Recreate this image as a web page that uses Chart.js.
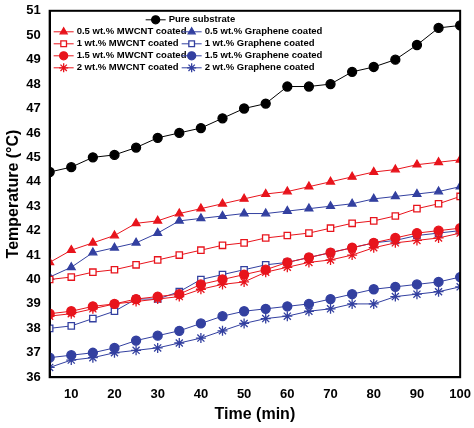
<!DOCTYPE html>
<html><head><meta charset="utf-8">
<script src="https://cdn.jsdelivr.net/npm/chart.js@4/dist/chart.umd.min.js"></script>
<style>html,body{margin:0;padding:0;background:#fff}#w{width:474px;height:428px}</style>
</head><body><div id="w"><canvas id="c"></canvas></div>
<script>
const times=[5,10,15,20,25,30,35,40,45,50,55,60,65,70,75,80,85,90,95,100];
const pure=[44.4,44.6,45.0,45.1,45.4,45.8,46.0,46.2,46.6,47.0,47.2,47.9,47.9,48.0,48.5,48.7,49.0,49.6,50.3,50.4];
const mw05=[40.7,41.2,41.5,41.8,42.3,42.4,42.7,42.9,43.1,43.3,43.5,43.6,43.8,44.0,44.2,44.4,44.5,44.7,44.8,44.9];
const mw1=[40.0,40.1,40.3,40.4,40.6,40.8,41.0,41.2,41.4,41.5,41.7,41.8,41.9,42.1,42.3,42.4,42.6,42.9,43.1,43.4];
const mw15=[38.6,38.7,38.9,39.0,39.2,39.3,39.4,39.8,40.0,40.2,40.4,40.7,40.9,41.1,41.3,41.5,41.7,41.9,42.0,42.1];
const mw2=[38.5,38.6,38.8,39.0,39.1,39.2,39.3,39.6,39.8,39.9,40.3,40.5,40.7,40.8,41.0,41.3,41.5,41.6,41.7,41.9];
const gr05=[40.1,40.5,41.1,41.3,41.5,41.9,42.4,42.5,42.6,42.7,42.7,42.8,42.9,43.0,43.1,43.3,43.4,43.5,43.6,43.8];
const gr1=[38.0,38.1,38.4,38.7,39.2,39.2,39.5,40.0,40.2,40.4,40.6,40.7,40.9,41.1,41.3,41.5,41.6,41.8,41.9,42.0];
const gr15=[36.8,36.9,37.0,37.2,37.5,37.7,37.9,38.2,38.5,38.7,38.8,38.9,39.0,39.2,39.4,39.6,39.7,39.8,39.9,40.1];
const gr2=[36.4,36.7,36.8,37.0,37.1,37.2,37.4,37.6,37.9,38.2,38.4,38.5,38.7,38.8,39.0,39.0,39.3,39.4,39.5,39.7];
const R='#e8141c',B='#3340a0';
function ds(label,data,color,style,fill){return{label,data:data.map((v,i)=>({x:times[i],y:v})),borderColor:color,backgroundColor:fill||color,pointBorderColor:color,pointBackgroundColor:fill||color,pointStyle:style,pointRadius:style==='star'?5:4.5,borderWidth:1,pointBorderWidth:1.3,tension:0};}
const datasets=[
ds('Pure substrate',pure,'#000','circle'),
ds('0.5 wt.% MWCNT coated',mw05,R,'triangle'),
ds('1 wt.% MWCNT coated',mw1,R,'rect','#fff'),
ds('1.5 wt.% MWCNT coated',mw15,R,'circle'),
ds('2 wt.% MWCNT coated',mw2,R,'star'),
ds('0.5 wt.% Graphene coated',gr05,B,'triangle'),
ds('1 wt.% Graphene coated',gr1,B,'rect','#fff'),
ds('1.5 wt.% Graphene coated',gr15,B,'circle'),
ds('2 wt.% Graphene coated',gr2,B,'star')];
const legendPlug={id:'lg',afterDraw(ch){const c=ch.ctx,a=ch.chartArea;c.save();c.font='bold 9.5px Arial, "Liberation Sans"';c.textBaseline='middle';
const pos=[[a.left+106,a.top+9]];for(let i=0;i<4;i++)pos.push([a.left+14,a.top+21+i*12]);for(let i=0;i<4;i++)pos.push([a.left+142,a.top+21+i*12]);
ch.data.datasets.forEach((d,i)=>{const[x,y]=pos[i];c.strokeStyle=d.borderColor;c.lineWidth=1;c.beginPath();c.moveTo(x-10,y);c.lineTo(x+10,y);c.stroke();
c.fillStyle=d.backgroundColor;c.strokeStyle=d.borderColor;c.lineWidth=1.3;Chart.helpers.drawPoint(c,{pointStyle:d.pointStyle,radius:d.pointStyle==='star'?4.5:4,borderWidth:1.3},x,y);
c.fillStyle='#000';c.fillText(d.label,x+13,y);});c.restore();}};
const frame={id:'frame',afterDatasetsDraw(ch){const a=ch.chartArea,c=ch.ctx;c.save();c.strokeStyle='#000';c.lineWidth=2;c.strokeRect(a.left,a.top,a.right-a.left,a.bottom-a.top);c.restore();}};
const tf={weight:'bold',size:13,family:'Arial'};
new Chart(document.getElementById('c'),{type:'line',data:{datasets},plugins:[legendPlug,frame],options:{animation:false,responsive:true,maintainAspectRatio:false,
layout:{padding:{top:6,right:8,left:0,bottom:0}},plugins:{legend:{display:false},tooltip:{enabled:false}},
scales:{x:{type:'linear',min:5,max:100,border:{color:'#000',width:2},grid:{display:false,drawTicks:true,tickColor:'#000',tickLength:6},
ticks:{stepSize:5,autoSkip:false,maxRotation:0,color:'#000',font:tf,callback:v=>v%10===0?String(v):''},
title:{display:true,text:'Time (min)',color:'#000',font:{weight:'bold',size:16,family:'Arial'},padding:{top:0}}},
y:{min:36,max:51,border:{color:'#000',width:2},grid:{display:false,drawTicks:true,tickColor:'#000',tickLength:6},ticks:{stepSize:1,autoSkip:false,color:'#000',font:tf},
title:{display:true,text:'Temperature (°C)',color:'#000',font:{weight:'bold',size:16,family:'Arial'},padding:{bottom:0}}}}},
});
</script></body></html>
